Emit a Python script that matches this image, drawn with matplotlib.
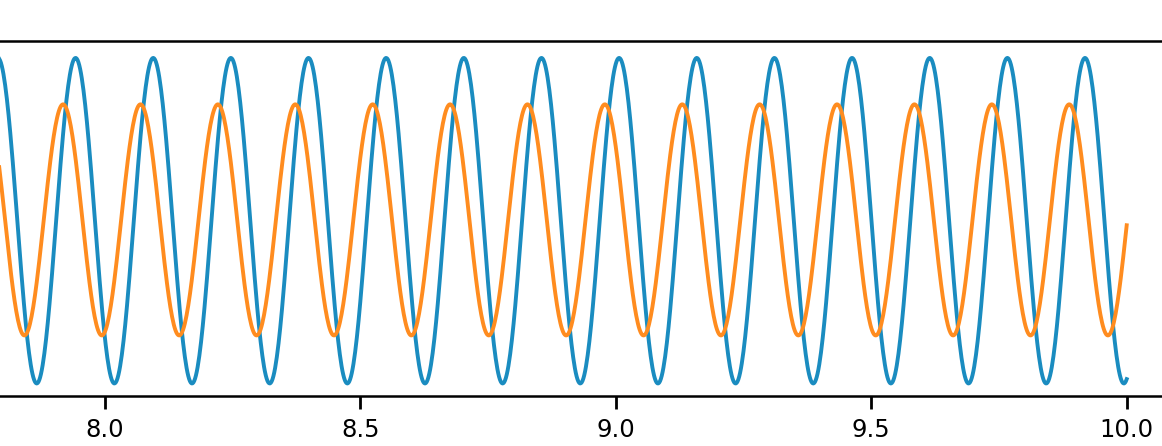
import matplotlib
matplotlib.use("Agg")
import matplotlib.pyplot as plt
import numpy as np

# signal parameters (time in s)
T_START, T_END, N_SAMPLES = 0.0, 10.0, 6000
SERIES_NAMES = ["blue", "orange"]
AMPLITUDES = [1.0, 0.71]
PERIODS = [0.1520, 0.1515]
PEAK_TIMES = [9.9184, 9.8875]
OFFSETS = [0.0, 0.005]
COLORS = ["#1a8cc0", "#ff8c1f"]

X_TICKS = [8.0, 8.5, 9.0, 9.5, 10.0]
X_VIEW = (7.7945, 10.0691)
Y_VIEW = (-1.077, 1.104)

t = np.linspace(T_START, T_END, N_SAMPLES)

fig = plt.figure(figsize=(11.62, 4.46), dpi=100)
ax = fig.add_axes([0.0, 50 / 446, 1.0, 355 / 446])

for amp, period, peak, off, color in zip(AMPLITUDES, PERIODS, PEAK_TIMES, OFFSETS, COLORS):
    y = off + amp * np.cos(2 * np.pi * (t - peak) / period)
    ax.plot(t, y, color=color, linewidth=2.8)

ax.set_xlim(*X_VIEW)
ax.set_ylim(*Y_VIEW)
ax.set_xticks(X_TICKS)
ax.set_yticks([])
ax.spines["left"].set_visible(False)
ax.spines["right"].set_visible(False)
for side in ("top", "bottom"):
    ax.spines[side].set_linewidth(1.8)
ax.tick_params(axis="x", length=9, width=2, labelsize=17.5, pad=7)

fig.savefig("out.png", dpi=100)
